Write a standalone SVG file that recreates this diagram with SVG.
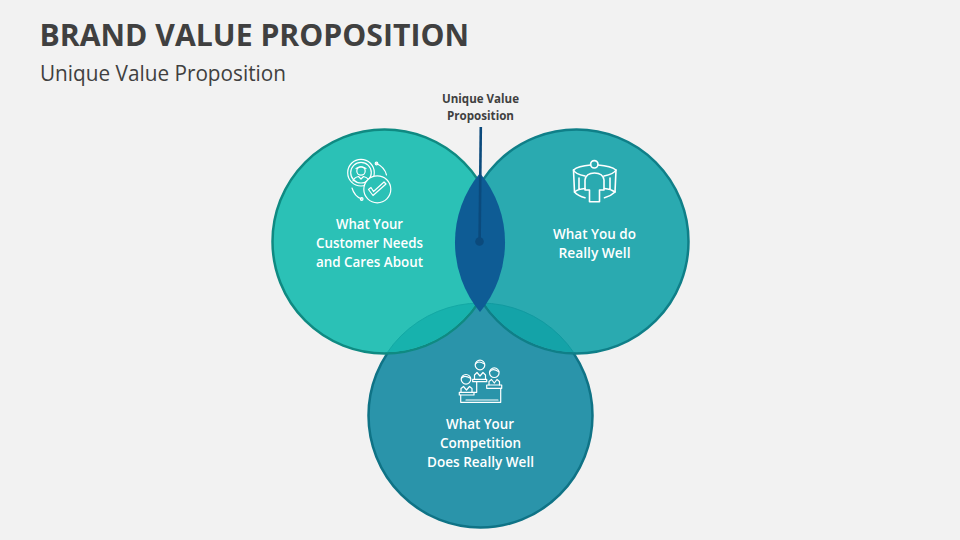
<svg xmlns="http://www.w3.org/2000/svg" width="960" height="540" viewBox="0 0 960 540">
<style>
text{font-family:"Open Sans","Liberation Sans",sans-serif;}
.t{font-size:31px;font-weight:700;fill:#404040}
.s{font-size:21px;fill:#404040}
.c{font-size:14.500px;font-weight:600;fill:#fff;text-anchor:middle}
.u{font-size:12px;font-weight:700;fill:#404040;text-anchor:middle}
.i{fill:none;stroke:#fff;stroke-width:1.2;stroke-linecap:round;stroke-linejoin:round}
.r{stroke-width:2.500}
</style>
<defs>
<clipPath id="cl"><circle cx="384.500" cy="241.500" r="110.800"/></clipPath>
<clipPath id="cr"><circle cx="576.500" cy="241.500" r="110.800"/></clipPath>
</defs>
<rect width="960" height="540" fill="#f2f2f2"/>
<text class="t" x="39.500" y="45.500" textLength="429.500" lengthAdjust="spacingAndGlyphs">BRAND VALUE PROPOSITION</text>
<text class="s" x="40" y="81" textLength="246" lengthAdjust="spacingAndGlyphs">Unique Value Proposition</text>

<g id="node-competition">
<circle class="r" cx="480.500" cy="415.500" r="112" fill="#2a94aa" stroke="#0f7386"/>
</g>
<g id="node-customer">
<circle class="r" cx="384.500" cy="241.500" r="112" fill="#2bc1b6" stroke="#0f8a82"/>
</g>
<g id="node-you">
<circle class="r" cx="576.500" cy="241.500" r="112" fill="#2aaab0" stroke="#0f7f88"/>
</g>
<g id="overlaps">
<circle cx="480.500" cy="415.500" r="112.500" fill="#17b2ad" stroke="#14a8a4" clip-path="url(#cl)"/>
<circle cx="480.500" cy="415.500" r="112.500" fill="#14a3a8" stroke="#129aa0" clip-path="url(#cr)"/>
</g>
<g id="node-center">
<path d="M480 173A109 109 0 0 1 480 312A109 109 0 0 1 480 173Z" fill="#0e5c95"/>
<text class="u" x="480.500" y="102.500" textLength="77" lengthAdjust="spacingAndGlyphs">Unique Value</text>
<text class="u" x="480.500" y="119.500" textLength="67" lengthAdjust="spacingAndGlyphs">Proposition</text>
</g>
<g id="connectors">
<path d="M480.800 127L479.600 241" fill="none" stroke="#0b4a7c" stroke-width="2.600"/>
<circle cx="479.500" cy="241.500" r="4.300" fill="#0b4a7c"/>
</g>
<g id="label-customer">
<g class="i">
<circle cx="361" cy="172.700" r="13.300"/><circle cx="361" cy="172.700" r="10.300"/>
<circle cx="361" cy="171" r="4.200"/><path d="M356 168.500Q361 165 366 168.500"/>
<path d="M353 181Q354 177.500 358.500 176.500L361 179L363.500 176.500Q367 177.500 368 179"/>
<path d="M376.500 163.500Q384.500 167 386.500 175M352 188Q354.500 196.500 361.700 199"/>
<circle cx="376.500" cy="163.500" r="1.300"/><circle cx="361.700" cy="199" r="1.300"/>
<circle cx="377.300" cy="189.300" r="13.500" fill="#2bc1b6"/>
<path d="M368.500 189.500L373 195.500L386 184L384 182L373.500 191.500L371 187.500Z"/>
</g>
<text class="c" x="369.500" y="228.500" textLength="67" lengthAdjust="spacingAndGlyphs">What Your</text>
<text class="c" x="369.500" y="247.500" textLength="107" lengthAdjust="spacingAndGlyphs">Customer Needs</text>
<text class="c" x="369.500" y="266.500" textLength="107" lengthAdjust="spacingAndGlyphs">and Cares About</text>
</g>
<g id="label-you">
<g class="i" style="stroke-width:1.600">
<circle cx="594.300" cy="164.300" r="3.700"/>
<path d="M590.700 165Q578 166 573.500 170Q575 174 585 176M598 165Q611 166 616 170Q614 174 604 176"/>
<path d="M573.500 170L574.500 192Q578 196 585 197.700M616 170L615 192Q611 196 604.500 197.700"/>
<path d="M579 178V189M610 178V189M574.500 192Q578 189 585 188.500M615 192Q611 189 604.500 188.500"/>
<path d="M589.500 201.700V190H585V180Q586 173 594.500 173Q603 173 604 180V190H599.500V201.700Z"/>
</g>
<text class="c" x="594.500" y="239" textLength="83" lengthAdjust="spacingAndGlyphs">What You do</text>
<text class="c" x="594.500" y="258" textLength="72" lengthAdjust="spacingAndGlyphs">Really Well</text>
</g>
<g id="label-competition">
<g class="i">
<circle cx="480" cy="365" r="4.800"/><path d="M475.500 364Q478 360 484.500 364"/>
<path d="M474.500 379.300V375L477 372.500L480 376L483 372.500L485.500 375V379.300"/><path d="M472.700 379.300H486.700V381.700H472.700Z"/>
<circle cx="494.300" cy="372.700" r="4.800"/><path d="M489.800 371.700Q492.300 367.700 498.800 371.700"/>
<path d="M489 385V381.500L491.500 379.500L494.300 383L497 379.500L499.500 381.500V385"/><path d="M486.700 385H501.700V388.300H486.700Z"/>
<circle cx="466" cy="379.300" r="4.800"/><path d="M461.500 378.300Q464 374.300 470.500 378.300"/>
<path d="M461 392.300V388.500L463.500 386.500L466.500 390L469.500 386.500L472 388.500V392.300"/><path d="M459.300 392.300H474V395H459.300Z"/>
<path d="M476.700 381.700V392.300H474M500.700 388.300V402.300H460.700V395M466 400H498"/>
</g>
<text class="c" x="480" y="428.500" textLength="68" lengthAdjust="spacingAndGlyphs">What Your</text>
<text class="c" x="480.500" y="447.500" textLength="81" lengthAdjust="spacingAndGlyphs">Competition</text>
<text class="c" x="480.500" y="466.500" textLength="107" lengthAdjust="spacingAndGlyphs">Does Really Well</text>
</g>
</svg>
